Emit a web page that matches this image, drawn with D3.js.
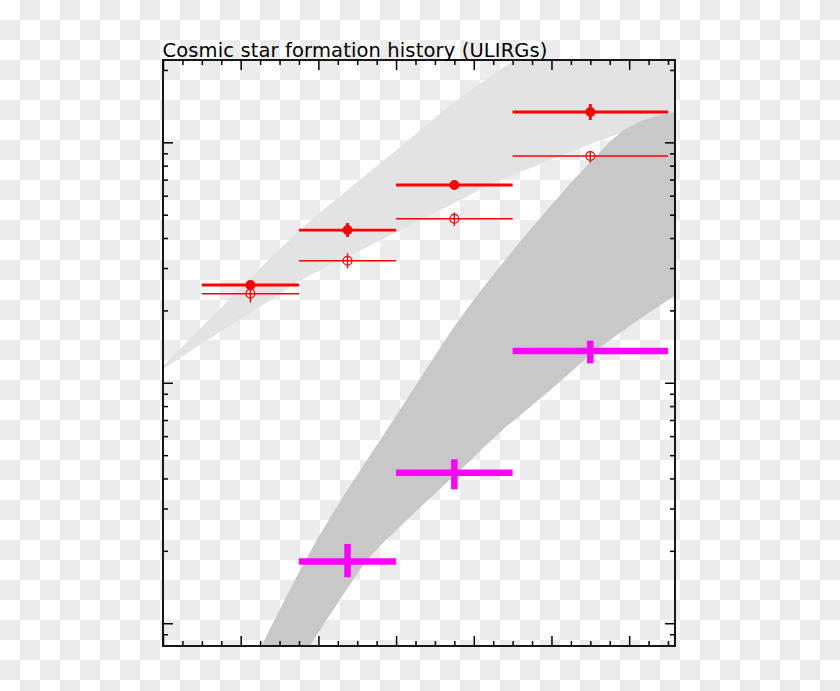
<!DOCTYPE html>
<html>
<head>
<meta charset="utf-8">
<script src="https://cdn.jsdelivr.net/npm/d3@7"></script>
<style>
  body { margin: 0; background: #fff; }
  svg { display: block; }
</style>
</head>
<body>
<div id="chart"></div>
<script>
var title = "Cosmic star formation history (ULIRGs)";

// redshift bins
var binLo = [0.5, 1.75, 3.0, 4.5];
var binHi = [1.75, 3.0, 4.5, 6.5];
var binMid = [1.125, 2.375, 3.75, 5.5];

// filled red points (thick bars)
var totalY = [0.02551, 0.04318, 0.06646, 0.1337];
var totalErrLo = [0.02467, 0.04039, 0.06366, 0.1238];
var totalErrHi = [0.02638, 0.04618, 0.06939, 0.1443];

// open red points (thin bars)
var openY = [0.02347, 0.03219, 0.04812, 0.0877];
var openErrLo = [0.02157, 0.02993, 0.04487, 0.08227];
var openErrHi = [0.02478, 0.03456, 0.05116, 0.09202];

// magenta ULIRG points (no value in first bin)
var ulirgY = [null, 0.001804, 0.004227, 0.01356];
var ulirgErrLo = [null, 0.001553, 0.003607, 0.01205];
var ulirgErrHi = [null, 0.002137, 0.004807, 0.01496];

// light shaded band
var lightX = [0, 0.5, 1.0, 1.5, 1.75, 2.5, 3.0, 3.7, 4.3, 4.7, 5.0, 6.0, 6.6];
var lightLo = [0.01141, 0.01458, 0.01847, 0.0234, 0.02635, 0.03495, 0.04216, 0.05485, 0.06871, 0.07759, 0.08482, 0.1128, 0.1323];
var lightHi = [0.01174, 0.01706, 0.02479, 0.03599, 0.04278, 0.06837, 0.09254, 0.1423, 0.1968, 0.2396, 0.2778, 0.4339, 0.5618];

// dark shaded band
var darkX = [1.1, 1.5, 1.9, 2.3, 2.6, 3.1, 3.8, 4.3, 5.0, 5.55, 5.9, 6.6];
var darkLo = [0.000312, 0.000503, 0.000813, 0.001286, 0.001781, 0.002612, 0.004257, 0.006067, 0.009423, 0.01343, 0.01627, 0.02318];
var darkHi = [0.000621, 0.001136, 0.001998, 0.003286, 0.00464, 0.008166, 0.01807, 0.02944, 0.05485, 0.0860, 0.1104, 0.1337];

var xMajor = [0, 1, 2, 3, 4, 5, 6];
var yMajor = [0.001, 0.01, 0.1];

(function () {
  var W = 840, H = 691;
  var pLeft = 163, pRight = 675, pTop = 60, pBottom = 646;
  var cell = 20;

  var svg = d3.select("#chart").append("svg")
    .attr("width", W)
    .attr("height", H);

  // checkerboard backdrop (transparent-image look)
  var cells = [];
  d3.range(0, Math.ceil(H / cell)).forEach(function (r) {
    d3.range(0, Math.ceil(W / cell)).forEach(function (c) {
      if ((r + c) % 2 === 1) cells.push([c, r]);
    });
  });
  svg.append("rect").attr("width", W).attr("height", H).attr("fill", "#ffffff");
  svg.append("g")
    .attr("class", "checker")
    .selectAll("rect")
    .data(cells)
    .enter()
    .append("rect")
    .attr("x", function (d) { return d[0] * cell; })
    .attr("y", function (d) { return d[1] * cell; })
    .attr("width", cell)
    .attr("height", cell)
    .style("fill", "#ececec");

  svg.append("defs").append("clipPath").attr("id", "plotclip")
    .append("rect")
    .attr("x", pLeft).attr("y", pTop)
    .attr("width", pRight - pLeft).attr("height", pBottom - pTop);

  var x = d3.scaleLinear().domain([0, 6.59]).range([pLeft, pRight]);
  var y = d3.scaleLog().domain([8.04e-4, 0.22]).range([pBottom, pTop]);

  var bands = svg.append("g").attr("clip-path", "url(#plotclip)");

  var lightData = lightX.map(function (v, i) { return {x: v, lo: lightLo[i], hi: lightHi[i]}; });
  var darkData = darkX.map(function (v, i) { return {x: v, lo: darkLo[i], hi: darkHi[i]}; });

  var area = d3.area()
    .x(function (d) { return x(d.x); })
    .y0(function (d) { return y(d.lo); })
    .y1(function (d) { return y(d.hi); })
    .curve(d3.curveMonotoneX);

  bands.append("path").attr("d", area(lightData)).attr("fill", "#e3e3e3");
  bands.append("path").attr("d", area(darkData)).attr("fill", "#c8c8c8");

  // ticks, all pointing inwards
  var xMinor = d3.range(0, 6.59, 0.25).filter(function (v) { return xMajor.indexOf(v) < 0; });
  var yMinor = [];
  [1e-4, 1e-3, 1e-2, 1e-1].forEach(function (dec) {
    for (var k = 2; k <= 9; k++) {
      var v = k * dec;
      if (v > y.domain()[0] && v < y.domain()[1]) yMinor.push(v);
    }
  });

  function addAxis(gen, vals, size, tx, ty) {
    var g = svg.append("g")
      .attr("transform", "translate(" + tx + "," + ty + ")")
      .call(gen.tickValues(vals).tickSize(size).tickFormat(""));
    g.select(".domain").remove();
    g.selectAll(".tick line").attr("stroke", "#000").attr("stroke-width", 1.5);
  }

  addAxis(d3.axisBottom(x), xMajor, -10, 0, pBottom);
  addAxis(d3.axisBottom(x), xMinor, -5, 0, pBottom);
  addAxis(d3.axisTop(x), xMajor, -10, 0, pTop);
  addAxis(d3.axisTop(x), xMinor, -5, 0, pTop);
  addAxis(d3.axisLeft(y), yMajor, -10, pLeft, 0);
  addAxis(d3.axisLeft(y), yMinor, -5, pLeft, 0);
  addAxis(d3.axisRight(y), yMajor, -10, pRight, 0);
  addAxis(d3.axisRight(y), yMinor, -5, pRight, 0);

  svg.append("rect")
    .attr("x", pLeft).attr("y", pTop)
    .attr("width", pRight - pLeft).attr("height", pBottom - pTop)
    .style("fill", "none")
    .attr("stroke", "#000")
    .attr("stroke-width", 1.8);

  // data
  var red = "#ff0000", magenta = "#ff00ff";
  var pts = svg.append("g");

  binMid.forEach(function (m, i) {
    // open points
    pts.append("line")
      .attr("x1", x(binLo[i])).attr("x2", x(binHi[i]))
      .attr("y1", y(openY[i])).attr("y2", y(openY[i]))
      .attr("stroke", red).attr("stroke-width", 1.4);
    pts.append("line")
      .attr("x1", x(m)).attr("x2", x(m))
      .attr("y1", y(openErrLo[i])).attr("y2", y(openErrHi[i]))
      .attr("stroke", red).attr("stroke-width", 1.4);
    pts.append("circle")
      .attr("cx", x(m)).attr("cy", y(openY[i]))
      .attr("r", 4.4)
      .attr("fill", "none").attr("stroke", red).attr("stroke-width", 1.3);

    // filled points
    pts.append("line")
      .attr("x1", x(binLo[i])).attr("x2", x(binHi[i]))
      .attr("y1", y(totalY[i])).attr("y2", y(totalY[i]))
      .attr("stroke", red).attr("stroke-width", 2.8);
    pts.append("line")
      .attr("x1", x(m)).attr("x2", x(m))
      .attr("y1", y(totalErrLo[i])).attr("y2", y(totalErrHi[i]))
      .attr("stroke", red).attr("stroke-width", 2.8);
    pts.append("circle")
      .attr("cx", x(m)).attr("cy", y(totalY[i]))
      .attr("r", 5)
      .attr("fill", red);

    // magenta crosses
    if (ulirgY[i] != null) {
      pts.append("line")
        .attr("x1", x(binLo[i])).attr("x2", x(binHi[i]))
        .attr("y1", y(ulirgY[i])).attr("y2", y(ulirgY[i]))
        .attr("stroke", magenta).attr("stroke-width", 6.5);
      pts.append("line")
        .attr("x1", x(m)).attr("x2", x(m))
        .attr("y1", y(ulirgErrLo[i])).attr("y2", y(ulirgErrHi[i]))
        .attr("stroke", magenta).attr("stroke-width", 6.5);
    }
  });

  // title
  var t = svg.append("text")
    .attr("x", pLeft - 0.5).attr("y", 57)
    .attr("font-family", "DejaVu Sans")
    .attr("font-size", 19.5)
    .attr("fill", "#000")
    .text(title);
  var len = t.node().getComputedTextLength();
  t.attr("letter-spacing", ((385 - len) / (title.length - 1)).toFixed(2) + "px");
})();
</script>
</body>
</html>
